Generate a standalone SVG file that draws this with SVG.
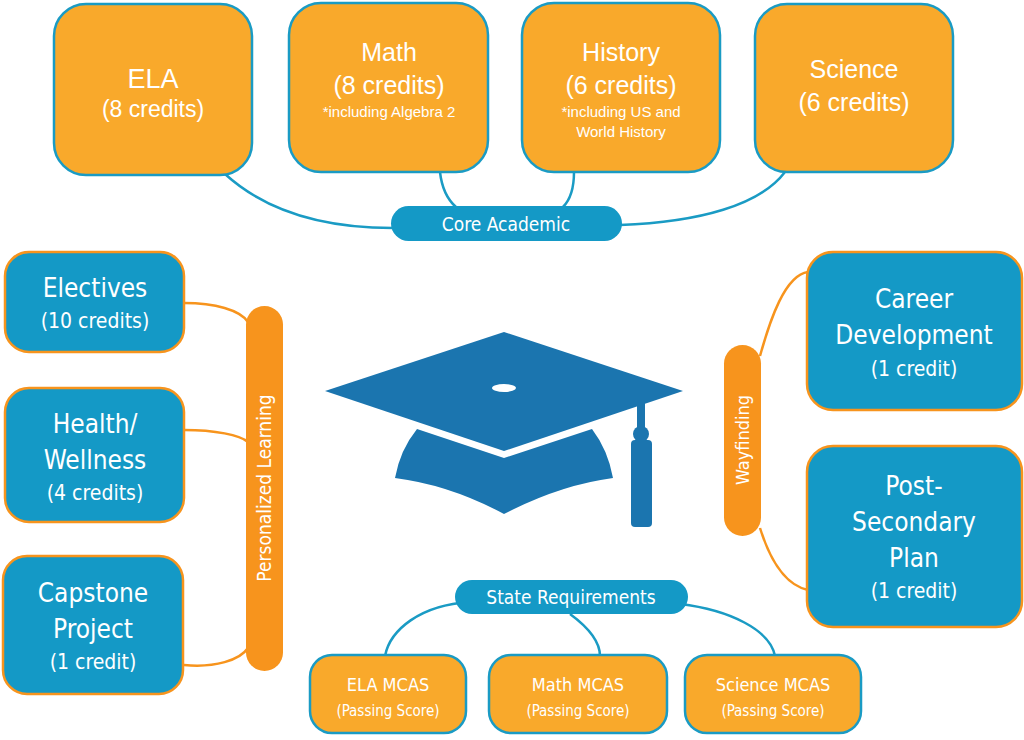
<svg xmlns="http://www.w3.org/2000/svg" width="1024" height="740" viewBox="0 0 1024 740">
<style>
.ob{fill:#F9A92B;stroke:#1A9BC4;stroke-width:2.5}
.bb{fill:#1499C6;stroke:#F7941D;stroke-width:2.5}
.bp{fill:#1499C6}
.op{fill:#F7941D}
.t{font-family:"Liberation Sans",Arial,sans-serif;fill:#fff;text-anchor:middle}
.d{font-family:"DejaVu Sans Condensed","Liberation Sans",sans-serif;fill:#fff;text-anchor:middle}
.cb{fill:none;stroke:#1A9BC4;stroke-width:2.5}
.co{fill:none;stroke:#F7941D;stroke-width:2.5}
</style>
<rect width="1024" height="740" fill="#fff"/>
<g id="connectors">
<path class="cb" d="M225,174 C270,215 330,228 393,228" stroke="#6BBDDB"/>
<path class="cb" d="M440,172 C442,190 448,200 456,207"/>
<path class="cb" d="M574,172 C574,190 570,200 563,207"/>
<path class="cb" d="M785,172 C760,205 700,222 620,225"/>
<path class="co" d="M184,303 C215,303 240,310 248,322"/>
<path class="co" d="M184,430 C215,430 240,435 248,442"/>
<path class="co" d="M184,665 C215,668 240,660 248,648"/>
<path class="co" d="M808,272 C785,275 770,320 760,356"/>
<path class="co" d="M808,590 C785,585 770,560 760,528"/>
<path class="cb" d="M470,602 C420,605 390,630 385,656"/>
<path class="cb" d="M570,614 C585,625 600,640 600,656"/>
<path class="cb" d="M680,604 C730,610 770,630 775,656"/>
</g>
<g id="ela"><rect class="ob" x="54" y="4" width="198" height="171" rx="32"/><text class="t" x="153" y="88" font-size="27">ELA</text><text class="t" x="153" y="117" font-size="23">(8 credits)</text></g>
<g id="math"><rect class="ob" x="289" y="3" width="199" height="169" rx="32"/><text class="t" x="389" y="61" font-size="25">Math</text><text class="t" x="389" y="94" font-size="25">(8 credits)</text><text class="t" x="389" y="117" font-size="15">*including Algebra 2</text></g>
<g id="history"><rect class="ob" x="522" y="3" width="198" height="169" rx="32"/><text class="t" x="621" y="61" font-size="25">History</text><text class="t" x="621" y="94" font-size="25">(6 credits)</text><text class="t" x="621" y="117" font-size="15">*including US and</text><text class="t" x="621" y="137" font-size="15">World History</text></g>
<g id="science"><rect class="ob" x="755" y="4" width="198" height="168" rx="32"/><text class="t" x="854" y="78" font-size="25">Science</text><text class="t" x="854" y="111" font-size="25">(6 credits)</text></g>
<g id="core"><rect class="bp" x="391" y="206" width="231" height="35" rx="17.5"/><text class="d" x="506" y="231" font-size="19">Core Academic</text></g>
<g id="electives"><rect class="bb" x="5" y="252" width="179" height="100" rx="24"/><text class="d" x="95" y="297" font-size="26">Electives</text><text class="d" x="95" y="328" font-size="21">(10 credits)</text></g>
<g id="health"><rect class="bb" x="5" y="388" width="179" height="134" rx="24"/><text class="d" x="95" y="433" font-size="26">Health/</text><text class="d" x="95" y="469" font-size="26">Wellness</text><text class="d" x="95" y="500" font-size="21">(4 credits)</text></g>
<g id="capstone"><rect class="bb" x="3" y="556" width="180" height="138" rx="24"/><text class="d" x="93" y="602" font-size="26">Capstone</text><text class="d" x="93" y="638" font-size="26">Project</text><text class="d" x="93" y="669" font-size="21">(1 credit)</text></g>
<g id="personalized"><rect class="op" x="246" y="306" width="37" height="365" rx="18.5"/><text class="d" transform="translate(271,488) rotate(-90)" font-size="19">Personalized Learning</text></g>
<g id="career"><rect class="bb" x="807" y="252" width="215" height="158" rx="26"/><text class="d" x="914" y="308" font-size="26">Career</text><text class="d" x="914" y="344" font-size="26">Development</text><text class="d" x="914" y="376" font-size="21">(1 credit)</text></g>
<g id="postsecondary"><rect class="bb" x="807" y="446" width="215" height="181" rx="26"/><text class="d" x="914" y="495" font-size="26">Post-</text><text class="d" x="914" y="531" font-size="26">Secondary</text><text class="d" x="914" y="567" font-size="26">Plan</text><text class="d" x="914" y="598" font-size="21">(1 credit)</text></g>
<g id="wayfinding"><rect class="op" x="724" y="345" width="37" height="191" rx="18.5"/><text class="d" transform="translate(749,440) rotate(-90)" font-size="18">Wayfinding</text></g>
<g id="state"><rect class="bp" x="455" y="580" width="233" height="34" rx="17"/><text class="d" x="571" y="604" font-size="19">State Requirements</text></g>
<g id="elamcas"><rect class="ob" x="310" y="655" width="156" height="78" rx="22"/><text class="d" x="388" y="691" font-size="18">ELA MCAS</text><text class="d" x="388" y="716" font-size="15">(Passing Score)</text></g>
<g id="mathmcas"><rect class="ob" x="489" y="655" width="178" height="78" rx="22"/><text class="d" x="578" y="691" font-size="18">Math MCAS</text><text class="d" x="578" y="716" font-size="15">(Passing Score)</text></g>
<g id="sciencemcas"><rect class="ob" x="685" y="655" width="176" height="78" rx="22"/><text class="d" x="773" y="691" font-size="18">Science MCAS</text><text class="d" x="773" y="716" font-size="15">(Passing Score)</text></g>
<g id="cap" fill="#1B75AF">
<path d="M417,429 L504,458 L592,429 Q608,450 613,478 Q560,485 504,514 Q450,485 395,478 Q400,450 417,429 Z"/>
<polygon points="325,391 504,332 683,391 504,451"/>
<ellipse cx="504" cy="388" rx="12" ry="4" fill="#fff"/>
<rect x="637" y="400" width="8" height="32"/>
<circle cx="641" cy="434" r="8"/>
<rect x="631" y="440" width="21" height="87" rx="4"/>
</g>
</svg>
